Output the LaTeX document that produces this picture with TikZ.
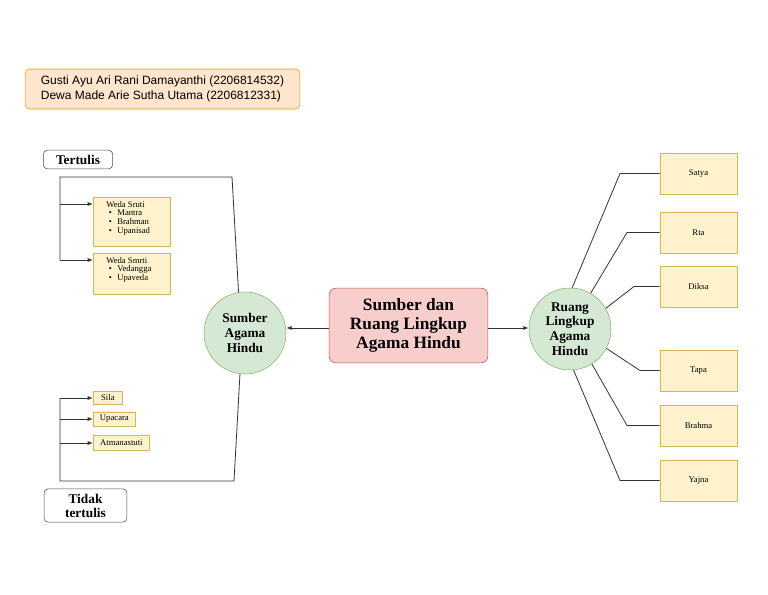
\documentclass[tikz,border=0pt]{standalone}
\usepackage{fontspec}
\setmainfont{Liberation Serif}
\newfontfamily\sans{Liberation Sans}
\usetikzlibrary{arrows.meta}
\definecolor{yf}{HTML}{FFF2CC}\definecolor{ys}{HTML}{D6B656}
\definecolor{of}{HTML}{FFE6CC}\definecolor{os}{HTML}{D79B00}
\definecolor{rf}{HTML}{F8CECC}\definecolor{rs}{HTML}{B85450}
\definecolor{gf}{HTML}{D5E8D4}\definecolor{gs}{HTML}{82B366}
\begin{document}
\begin{tikzpicture}[x=0.75pt,y=-0.75pt,
 yb/.style={draw=ys,fill=yf,line width=0.6pt,inner sep=0pt},
 circ/.style={circle,draw=gs,fill=gf,minimum size=61.5pt,inner sep=0pt,align=center,font=\bfseries\fontsize{10}{11}\selectfont},
 lbl/.style={draw=black!70,rounded corners=3pt,fill=white,align=center,font=\bfseries\fontsize{10}{11}\selectfont},
 ln/.style={draw=black!80,line width=0.6pt},
 ar/.style={ln,-{Latex[length=4pt,width=3pt]}},
 sm/.style={font=\fontsize{6.5}{7.5}\selectfont}]
\useasboundingbox (0,0) rectangle (768,594);
\node[draw=os,fill=of,rounded corners=3pt,minimum width=206pt,minimum height=30pt,inner sep=0pt,font=\sans\fontsize{9}{11}\selectfont,align=left] (auth) at (162.5,89) {Gusti Ayu Ari Rani Damayanthi (2206814532)\\Dewa Made Arie Sutha Utama (2206812331)};
\node[lbl,minimum width=52pt,minimum height=14pt,inner sep=0pt] (tert) at (78,159.5) {Tertulis};
\node[lbl,minimum width=62pt,minimum height=25pt,inner sep=0pt,font=\bfseries\fontsize{10}{10.5}\selectfont] (tidak) at (85.5,505.5) {Tidak\\tertulis};
\node[draw=rs,fill=rf,rounded corners=5pt,minimum width=119pt,minimum height=56pt,inner sep=0pt,align=center,font=\bfseries\fontsize{13}{14.5}\selectfont] (center) at (408.5,325.5) {Sumber dan\\Ruang Lingkup\\Agama Hindu};
\node[circ] (sumber) at (245,333) {Sumber\\Agama\\Hindu};
\node[circ] (ruang) at (570,329) {Ruang\\Lingkup\\Agama\\Hindu};
\draw[ar] (center.west |- 0,328) -- (sumber.east |- 0,328);
\draw[ar] (center.east |- 0,328) -- (ruang.west |- 0,328);
% left boxes
\node[yb,minimum width=57.75pt,minimum height=36.75pt,anchor=north west,sm,align=left] (ws) at (93,197) {};
\node[anchor=north west,sm,align=left,inner sep=0pt] at (106,201) {Weda Sruti\\[-1pt]\hspace*{2pt}\textbullet\hspace{4pt}Mantra\\[-1pt]\hspace*{2pt}\textbullet\hspace{4pt}Brahman\\[-1pt]\hspace*{2pt}\textbullet\hspace{4pt}Upanisad};
\node[yb,minimum width=57.75pt,minimum height=30.75pt,anchor=north west] (wm) at (93,253) {};
\node[anchor=north west,sm,align=left,inner sep=0pt] at (106,257) {Weda Smrti\\[-1pt]\hspace*{2pt}\textbullet\hspace{4pt}Vedangga\\[-1pt]\hspace*{2pt}\textbullet\hspace{4pt}Upaveda};
\node[yb,sm,minimum width=21.75pt,minimum height=9.75pt,anchor=west] (sila) at (93,398) {Sila};
\node[yb,sm,minimum width=31.5pt,minimum height=10.5pt,anchor=west] (upa) at (93,419) {Upacara};
\node[yb,sm,minimum width=42pt,minimum height=11.25pt,anchor=west] (atm) at (93,443) {Atmanastuti};
\coordinate (t1) at (232,177); \coordinate (t2) at (60,177);
\coordinate (b1) at (234,481); \coordinate (b2) at (60,481);
\draw[ln] (sumber.99) -- (t1) -- (t2) -- (60,260);
\draw[ar] (60,204) -- (ws.west |- 0,204);
\draw[ar] (60,260) -- (wm.west |- 0,260);
\draw[ln] (sumber.263) -- (b1) -- (b2) -- (60,398);
\draw[ar] (60,398) -- (sila.west);
\draw[ar] (60,419) -- (upa.west);
\draw[ar] (60,443) -- (atm.west);
% right boxes
\foreach \n/\t/\yy/\ex/\ang in {satya/Satya/173.5/620/87, rta/Rta/232.5/627/60, diksa/Diksa/286.5/634/30, tapa/Tapa/370.5/640/-28, brahma/Brahma/425.5/627/-58, yajna/Yajna/480.5/620/-85}{
 \node[yb,sm,minimum width=57.75pt,minimum height=30.75pt] (\n) at (698.5,\yy) {\t};
 \draw[ln] (ruang.\ang) -- (\ex,\yy) -- (\n.west);
}
\end{tikzpicture}
\end{document}
